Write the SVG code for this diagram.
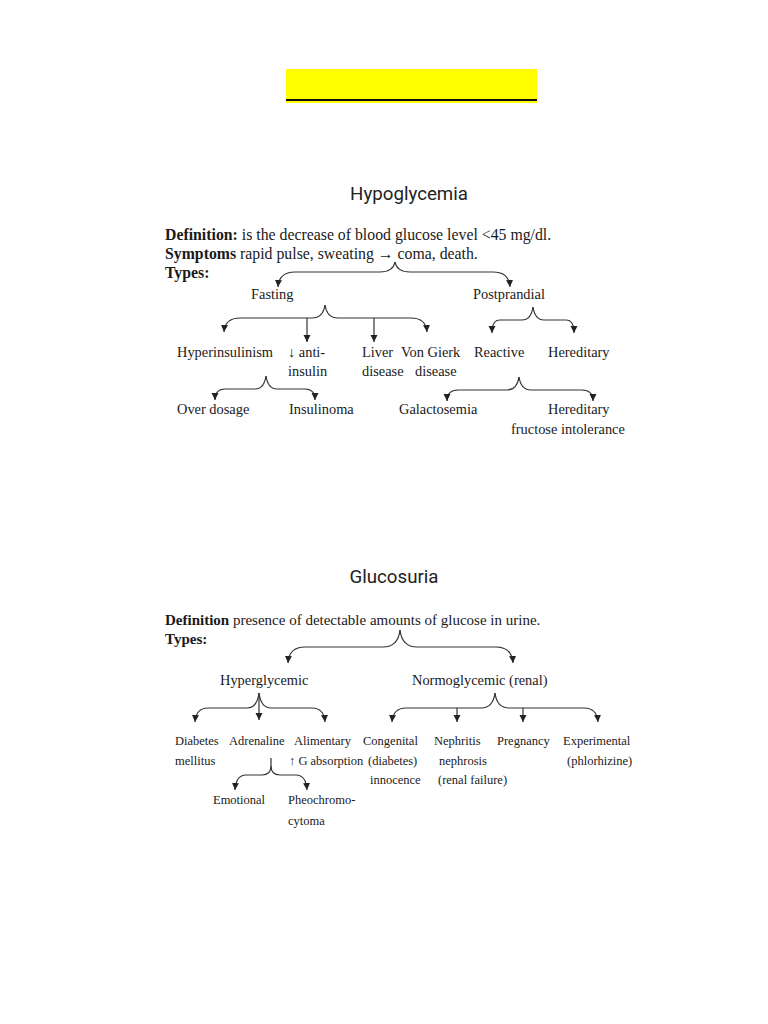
<svg xmlns="http://www.w3.org/2000/svg" width="768" height="1024" viewBox="0 0 768 1024">
<style>
.t{font-family:"Liberation Serif","Times New Roman",serif;font-size:14.4px;fill:#1a1a1a}
.d{font-family:"Liberation Serif","Times New Roman",serif;font-size:15.8px;fill:#1a1a1a}
.d2{font-family:"Liberation Serif","Times New Roman",serif;font-size:15px;fill:#1a1a1a}
.s{font-family:"Liberation Serif","Times New Roman",serif;font-size:12.5px;fill:#1a1a1a}
.b{font-weight:bold}
.h{font-family:Roboto,"Noto Sans",sans-serif;font-size:18.7px;fill:#222;text-anchor:middle}
.c{fill:none;stroke:#333;stroke-width:1.2}
</style>
<defs>
<marker id="ah" markerUnits="userSpaceOnUse" markerWidth="9" markerHeight="8" refX="7" refY="3.5" orient="auto">
<path d="M0,0 L7,3.5 L0,7 z" fill="#222"/>
</marker>
</defs>
<rect width="768" height="1024" fill="#fff"/>
<g id="banner">
<rect x="286" y="69" width="251" height="34" fill="#ffff00"/>
<line x1="286" y1="100" x2="537" y2="100" stroke="#111" stroke-width="2"/>
</g>
<g id="hypo-title"><text class="h" x="409" y="200">Hypoglycemia</text></g>
<g id="hypo-def">
<text class="d" x="165" y="240"><tspan class="b">Definition:</tspan> is the decrease of blood glucose level &lt;45 mg/dl.</text>
<text class="d" x="165" y="259"><tspan class="b">Symptoms</tspan> rapid pulse, sweating → coma, death.</text>
<text class="d b" x="165" y="278">Types:</text>
</g>
<g id="fasting"><text class="t" x="251" y="299">Fasting</text></g>
<g id="postprandial"><text class="t" x="473" y="299">Postprandial</text></g>
<g id="hyperinsulinism"><text class="t" x="177" y="357">Hyperinsulinism</text></g>
<g id="anti-insulin"><text class="t" x="288" y="357">↓ anti-</text><text class="t" x="288" y="376">insulin</text></g>
<g id="liver"><text class="t" x="362" y="357">Liver</text><text class="t" x="362" y="376">disease</text></g>
<g id="vongierk"><text class="t" x="401" y="357">Von Gierk</text><text class="t" x="415" y="376">disease</text></g>
<g id="reactive"><text class="t" x="474" y="357">Reactive</text></g>
<g id="hereditary"><text class="t" x="548" y="357">Hereditary</text></g>
<g id="overdosage"><text class="t" x="177" y="414">Over dosage</text></g>
<g id="insulinoma"><text class="t" x="289" y="414">Insulinoma</text></g>
<g id="galactosemia"><text class="t" x="399" y="414">Galactosemia</text></g>
<g id="hfi"><text class="t" x="548" y="414">Hereditary</text><text class="t" x="511" y="434">fructose intolerance</text></g>

<g id="gluco-title"><text class="h" x="394" y="583">Glucosuria</text></g>
<g id="gluco-def">
<text class="d2" x="165" y="625"><tspan class="b">Definition</tspan> presence of detectable amounts of glucose in urine.</text>
<text class="d2 b" x="165" y="644">Types:</text>
</g>
<g id="hyperglycemic"><text class="t" x="220" y="685">Hyperglycemic</text></g>
<g id="normoglycemic"><text class="t" x="412" y="685">Normoglycemic (renal)</text></g>
<g id="diabetes"><text class="s" x="175" y="745">Diabetes</text><text class="s" x="175" y="765">mellitus</text></g>
<g id="adrenaline"><text class="s" x="229" y="745">Adrenaline</text></g>
<g id="alimentary"><text class="s" x="294" y="745">Alimentary</text><text class="s" x="289" y="765">↑ G absorption</text></g>
<g id="congenital"><text class="s" x="363" y="745">Congenital</text><text class="s" x="368" y="765">(diabetes)</text><text class="s" x="370" y="784">innocence</text></g>
<g id="nephritis"><text class="s" x="434" y="745">Nephritis</text><text class="s" x="439" y="765">nephrosis</text><text class="s" x="438" y="784">(renal failure)</text></g>
<g id="pregnancy"><text class="s" x="497" y="745">Pregnancy</text></g>
<g id="experimental"><text class="s" x="563" y="745">Experimental</text><text class="s" x="567" y="765">(phlorhizine)</text></g>
<g id="emotional"><text class="s" x="213" y="804">Emotional</text></g>
<g id="pheo"><text class="s" x="288" y="804">Pheochromo-</text><text class="s" x="288" y="825">cytoma</text></g>

<g id="connectors">
<path class="c" marker-end="url(#ah)" d="M395,262 Q393,272 380,272 L295,272 Q279,272 278,287"/>
<path class="c" marker-end="url(#ah)" d="M395,262 Q397,272 410,272 L493,272 Q509,272 510,287"/>

<path class="c" marker-end="url(#ah)" d="M325,305 Q323,318 312,318 L240,318 Q225,318 224,332"/>
<path class="c" marker-end="url(#ah)" d="M325,305 Q327,318 338,318 L411,318 Q426,318 427,332"/>
<path class="c" marker-end="url(#ah)" d="M307,318 L307,342"/>
<path class="c" marker-end="url(#ah)" d="M374,318 L374,342"/>

<path class="c" marker-end="url(#ah)" d="M533,307 Q531,320 522,320 L500,320 Q492,320 492,333"/>
<path class="c" marker-end="url(#ah)" d="M533,307 Q535,320 544,320 L566,320 Q574,320 574,333"/>

<path class="c" marker-end="url(#ah)" d="M266,376 Q264,389 255,389 L225,389 Q215,389 215,400"/>
<path class="c" marker-end="url(#ah)" d="M266,376 Q268,389 277,389 L305,389 Q315,389 315,400"/>

<path class="c" marker-end="url(#ah)" d="M519,377 Q517,390 507,390 L458,390 Q447,390 447,401"/>
<path class="c" marker-end="url(#ah)" d="M519,377 Q521,390 531,390 L582,390 Q593,390 593,401"/>

<path class="c" marker-end="url(#ah)" d="M400,630 Q398,647 383,647 L305,647 Q289,647 288,663"/>
<path class="c" marker-end="url(#ah)" d="M400,630 Q402,647 417,647 L496,647 Q512,647 513,663"/>

<path class="c" marker-end="url(#ah)" d="M259,693 Q257,708 247,708 L208,708 Q196,708 195,722"/>
<path class="c" marker-end="url(#ah)" d="M259,693 Q261,708 271,708 L312,708 Q324,708 325,722"/>
<path class="c" marker-end="url(#ah)" d="M259,693 L259,720"/>

<path class="c" marker-end="url(#ah)" d="M271,758 L271,766 Q271,775 262,775 L246,775 Q236,775 235,790"/>
<path class="c" marker-end="url(#ah)" d="M271,766 Q271,775 280,775 L296,775 Q306,775 307,790"/>

<path class="c" marker-end="url(#ah)" d="M495,693 Q493,708 481,708 L406,708 Q393,708 392,722"/>
<path class="c" marker-end="url(#ah)" d="M495,693 Q497,708 509,708 L584,708 Q597,708 598,722"/>
<path class="c" marker-end="url(#ah)" d="M457,708 L457,722"/>
<path class="c" marker-end="url(#ah)" d="M523,708 L523,722"/>
</g>
</svg>
